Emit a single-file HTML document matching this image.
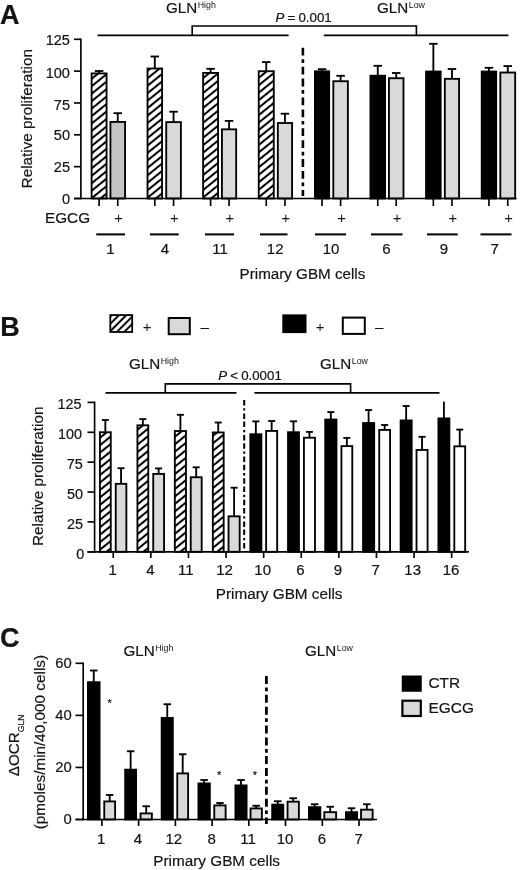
<!DOCTYPE html>
<html><head><meta charset="utf-8"><title>Figure</title>
<style>
html,body{margin:0;padding:0;background:#fff;}
svg{display:block;}
svg text{font-family:"Liberation Sans",sans-serif;fill:#141414;stroke:#141414;stroke-width:0.2px;}
svg text .sup, svg text.sup{stroke-width:0;}
</style></head><body>
<svg width="520" height="870" viewBox="0 0 520 870">
<defs>
<pattern id="hatch" patternUnits="userSpaceOnUse" width="5.8" height="5.8" patternTransform="rotate(-39)">
<rect width="5.8" height="5.8" fill="#fff"/>
<line x1="0" y1="2.9" x2="5.8" y2="2.9" stroke="#000" stroke-width="2.05"/>
</pattern>
<pattern id="hatch2" patternUnits="userSpaceOnUse" width="5.2" height="5.2" patternTransform="translate(3.9,0) rotate(-45)">
<rect width="5.2" height="5.2" fill="#fff"/>
<line x1="0" y1="2.6" x2="5.2" y2="2.6" stroke="#000" stroke-width="2.0"/>
</pattern>
</defs>
<rect width="520" height="870" fill="#fff"/>

<text x="-0.1" y="23.9" font-size="27" text-anchor="start" font-weight="bold">A</text>
<line x1="80.9" y1="38.47499999999998" x2="80.9" y2="199.325" stroke="#000" stroke-width="1.65" />
<line x1="74" y1="198.5" x2="80.9" y2="198.5" stroke="#000" stroke-width="1.65" />
<text x="70" y="204.2" font-size="14.6" text-anchor="end" >0</text>
<line x1="74" y1="166.66" x2="80.9" y2="166.66" stroke="#000" stroke-width="1.65" />
<text x="70" y="171.8" font-size="14.6" text-anchor="end" >25</text>
<line x1="74" y1="134.82" x2="80.9" y2="134.82" stroke="#000" stroke-width="1.65" />
<text x="70" y="139.5" font-size="14.6" text-anchor="end" >50</text>
<line x1="74" y1="102.97999999999999" x2="80.9" y2="102.97999999999999" stroke="#000" stroke-width="1.65" />
<text x="70" y="109.7" font-size="14.6" text-anchor="end" >75</text>
<line x1="74" y1="71.13999999999999" x2="80.9" y2="71.13999999999999" stroke="#000" stroke-width="1.65" />
<text x="70" y="78.0" font-size="14.6" text-anchor="end" >100</text>
<line x1="74" y1="39.29999999999998" x2="80.9" y2="39.29999999999998" stroke="#000" stroke-width="1.65" />
<text x="70" y="45.2" font-size="14.6" text-anchor="end" >125</text>
<text transform="translate(31.6,118.7) rotate(-90)" font-size="15.3" text-anchor="middle">Relative proliferation</text>
<line x1="99.1" y1="71" x2="99.1" y2="73.5" stroke="#000" stroke-width="1.85" />
<line x1="94.85" y1="71" x2="103.35" y2="71" stroke="#000" stroke-width="1.85" />
<rect x="91.62" y="73.42" width="14.95" height="125.08" fill="url(#hatch)" stroke="#000" stroke-width="1.85"/>
<line x1="99.1" y1="198.5" x2="99.1" y2="206" stroke="#000" stroke-width="1.65" />
<line x1="117.75" y1="113.2" x2="117.75" y2="122" stroke="#000" stroke-width="1.85" />
<line x1="113.5" y1="113.2" x2="122.0" y2="113.2" stroke="#000" stroke-width="1.85" />
<rect x="110.42" y="121.92" width="14.65" height="76.58" fill="#c4c4c4" stroke="#000" stroke-width="1.85"/>
<line x1="117.75" y1="198.5" x2="117.75" y2="206" stroke="#000" stroke-width="1.65" />
<line x1="154.8" y1="56.5" x2="154.8" y2="68.6" stroke="#000" stroke-width="1.85" />
<line x1="150.55" y1="56.5" x2="159.05" y2="56.5" stroke="#000" stroke-width="1.85" />
<rect x="147.53" y="68.52" width="14.55" height="129.97" fill="url(#hatch)" stroke="#000" stroke-width="1.85"/>
<line x1="154.8" y1="198.5" x2="154.8" y2="206" stroke="#000" stroke-width="1.65" />
<line x1="173.55" y1="111.7" x2="173.55" y2="122.2" stroke="#000" stroke-width="1.85" />
<line x1="169.3" y1="111.7" x2="177.8" y2="111.7" stroke="#000" stroke-width="1.85" />
<rect x="166.23" y="122.12" width="14.65" height="76.38" fill="#d9d9d9" stroke="#000" stroke-width="1.85"/>
<line x1="173.55" y1="198.5" x2="173.55" y2="206" stroke="#000" stroke-width="1.65" />
<line x1="210.6" y1="68.8" x2="210.6" y2="73" stroke="#000" stroke-width="1.85" />
<line x1="206.35" y1="68.8" x2="214.85" y2="68.8" stroke="#000" stroke-width="1.85" />
<rect x="203.12" y="72.92" width="14.95" height="125.58" fill="url(#hatch)" stroke="#000" stroke-width="1.85"/>
<line x1="210.6" y1="198.5" x2="210.6" y2="206" stroke="#000" stroke-width="1.65" />
<line x1="229.05" y1="120.9" x2="229.05" y2="129.4" stroke="#000" stroke-width="1.85" />
<line x1="224.8" y1="120.9" x2="233.3" y2="120.9" stroke="#000" stroke-width="1.85" />
<rect x="221.93" y="129.33" width="14.25" height="69.17" fill="#d9d9d9" stroke="#000" stroke-width="1.85"/>
<line x1="229.05" y1="198.5" x2="229.05" y2="206" stroke="#000" stroke-width="1.65" />
<line x1="266.25" y1="62.1" x2="266.25" y2="71.3" stroke="#000" stroke-width="1.85" />
<line x1="262.0" y1="62.1" x2="270.5" y2="62.1" stroke="#000" stroke-width="1.85" />
<rect x="258.73" y="71.22" width="15.05" height="127.27" fill="url(#hatch)" stroke="#000" stroke-width="1.85"/>
<line x1="266.25" y1="198.5" x2="266.25" y2="206" stroke="#000" stroke-width="1.65" />
<line x1="284.95" y1="113.7" x2="284.95" y2="123.1" stroke="#000" stroke-width="1.85" />
<line x1="280.7" y1="113.7" x2="289.2" y2="113.7" stroke="#000" stroke-width="1.85" />
<rect x="277.82" y="123.02" width="14.25" height="75.48" fill="#d9d9d9" stroke="#000" stroke-width="1.85"/>
<line x1="284.95" y1="198.5" x2="284.95" y2="206" stroke="#000" stroke-width="1.65" />
<line x1="322.05" y1="69.2" x2="322.05" y2="71.4" stroke="#000" stroke-width="1.85" />
<line x1="317.8" y1="69.2" x2="326.3" y2="69.2" stroke="#000" stroke-width="1.85" />
<rect x="314.93" y="71.33" width="14.25" height="127.17" fill="#000" stroke="#000" stroke-width="1.85"/>
<line x1="322.05" y1="198.5" x2="322.05" y2="206" stroke="#000" stroke-width="1.65" />
<line x1="340.6" y1="75.8" x2="340.6" y2="81.3" stroke="#000" stroke-width="1.85" />
<line x1="336.35" y1="75.8" x2="344.85" y2="75.8" stroke="#000" stroke-width="1.85" />
<rect x="333.32" y="81.22" width="14.55" height="117.28" fill="#d9d9d9" stroke="#000" stroke-width="1.85"/>
<line x1="340.6" y1="198.5" x2="340.6" y2="206" stroke="#000" stroke-width="1.65" />
<line x1="377.75" y1="65.8" x2="377.75" y2="75.8" stroke="#000" stroke-width="1.85" />
<line x1="373.5" y1="65.8" x2="382.0" y2="65.8" stroke="#000" stroke-width="1.85" />
<rect x="370.43" y="75.72" width="14.65" height="122.78" fill="#000" stroke="#000" stroke-width="1.85"/>
<line x1="377.75" y1="198.5" x2="377.75" y2="206" stroke="#000" stroke-width="1.65" />
<line x1="396.2" y1="73" x2="396.2" y2="78.3" stroke="#000" stroke-width="1.85" />
<line x1="391.95" y1="73" x2="400.45" y2="73" stroke="#000" stroke-width="1.85" />
<rect x="388.93" y="78.22" width="14.55" height="120.28" fill="#d9d9d9" stroke="#000" stroke-width="1.85"/>
<line x1="396.2" y1="198.5" x2="396.2" y2="206" stroke="#000" stroke-width="1.65" />
<line x1="433.35" y1="43.8" x2="433.35" y2="71.6" stroke="#000" stroke-width="1.85" />
<line x1="429.1" y1="43.8" x2="437.6" y2="43.8" stroke="#000" stroke-width="1.85" />
<rect x="426.03" y="71.52" width="14.65" height="126.98" fill="#000" stroke="#000" stroke-width="1.85"/>
<line x1="433.35" y1="198.5" x2="433.35" y2="206" stroke="#000" stroke-width="1.65" />
<line x1="451.95" y1="69" x2="451.95" y2="78.9" stroke="#000" stroke-width="1.85" />
<line x1="447.7" y1="69" x2="456.2" y2="69" stroke="#000" stroke-width="1.85" />
<rect x="444.82" y="78.83" width="14.25" height="119.67" fill="#d9d9d9" stroke="#000" stroke-width="1.85"/>
<line x1="451.95" y1="198.5" x2="451.95" y2="206" stroke="#000" stroke-width="1.65" />
<line x1="488.95000000000005" y1="67.8" x2="488.95000000000005" y2="71.6" stroke="#000" stroke-width="1.85" />
<line x1="484.70000000000005" y1="67.8" x2="493.20000000000005" y2="67.8" stroke="#000" stroke-width="1.85" />
<rect x="481.73" y="71.52" width="14.45" height="126.98" fill="#000" stroke="#000" stroke-width="1.85"/>
<line x1="488.95000000000005" y1="198.5" x2="488.95000000000005" y2="206" stroke="#000" stroke-width="1.65" />
<line x1="507.75" y1="66.1" x2="507.75" y2="72.6" stroke="#000" stroke-width="1.85" />
<line x1="503.5" y1="66.1" x2="512.0" y2="66.1" stroke="#000" stroke-width="1.85" />
<rect x="500.32" y="72.52" width="14.85" height="125.98" fill="#d9d9d9" stroke="#000" stroke-width="1.85"/>
<line x1="507.75" y1="198.5" x2="507.75" y2="206" stroke="#000" stroke-width="1.65" />
<line x1="74" y1="198.5" x2="516.6" y2="198.5" stroke="#000" stroke-width="1.65" />
<line x1="302.9" y1="47.8" x2="302.9" y2="196" stroke="#000" stroke-width="2.6" stroke-dasharray="7.8 3.7 3.7 3.7 7.8 4.1"/>
<text x="45" y="222.6" font-size="15.3" text-anchor="start" >EGCG</text>
<text x="118.65" y="222.7" font-size="14.8" text-anchor="middle" class="sup">+</text>
<text x="174.45000000000002" y="222.7" font-size="14.8" text-anchor="middle" class="sup">+</text>
<text x="229.95000000000002" y="222.7" font-size="14.8" text-anchor="middle" class="sup">+</text>
<text x="285.84999999999997" y="222.7" font-size="14.8" text-anchor="middle" class="sup">+</text>
<text x="341.5" y="222.7" font-size="14.8" text-anchor="middle" class="sup">+</text>
<text x="397.09999999999997" y="222.7" font-size="14.8" text-anchor="middle" class="sup">+</text>
<text x="452.84999999999997" y="222.7" font-size="14.8" text-anchor="middle" class="sup">+</text>
<text x="508.65" y="222.7" font-size="14.8" text-anchor="middle" class="sup">+</text>
<line x1="96.25" y1="234.4" x2="125" y2="234.4" stroke="#000" stroke-width="2.0" />
<line x1="150" y1="234.4" x2="178.75" y2="234.4" stroke="#000" stroke-width="2.0" />
<line x1="205" y1="234.4" x2="234" y2="234.4" stroke="#000" stroke-width="2.0" />
<line x1="260" y1="234.4" x2="287.5" y2="234.4" stroke="#000" stroke-width="2.0" />
<line x1="315" y1="234.4" x2="346" y2="234.4" stroke="#000" stroke-width="2.0" />
<line x1="371" y1="234.4" x2="402.5" y2="234.4" stroke="#000" stroke-width="2.0" />
<line x1="427" y1="234.4" x2="457.7" y2="234.4" stroke="#000" stroke-width="2.0" />
<line x1="480.5" y1="234.4" x2="511.5" y2="234.4" stroke="#000" stroke-width="2.0" />
<text x="110.5" y="254.4" font-size="15" text-anchor="middle" >1</text>
<text x="165" y="254.4" font-size="15" text-anchor="middle" >4</text>
<text x="220" y="254.4" font-size="15" text-anchor="middle" >11</text>
<text x="275.2" y="254.4" font-size="15" text-anchor="middle" >12</text>
<text x="331" y="254.4" font-size="15" text-anchor="middle" >10</text>
<text x="386.5" y="254.4" font-size="15" text-anchor="middle" >6</text>
<text x="443.8" y="254.4" font-size="15" text-anchor="middle" >9</text>
<text x="494.6" y="254.4" font-size="15" text-anchor="middle" >7</text>
<text x="239.6" y="278.6" font-size="15.2" text-anchor="start" >Primary GBM cells</text>
<text x="166" y="13.2" font-size="15.2">GLN<tspan class="sup" font-size="8.8" dx="0.5" dy="-5.3">High</tspan></text>
<text x="377" y="13.2" font-size="15.2">GLN<tspan class="sup" font-size="8.8" dx="0.5" dy="-5.3">Low</tspan></text>
<text x="275.6" y="22.2" font-size="13.3" word-spacing="-0.6"><tspan font-style="italic">P</tspan> = 0.001</text>
<line x1="97.5" y1="35.4" x2="288.6" y2="35.4" stroke="#000" stroke-width="1.65" />
<line x1="323.8" y1="35.4" x2="508.4" y2="35.4" stroke="#000" stroke-width="1.65" />
<polyline points="192.2,35.4 192.2,26 416.4,26 416.4,35.4" fill="none" stroke="#000" stroke-width="1.65"/>
<text x="0.2" y="336.3" font-size="27" text-anchor="start" font-weight="bold">B</text>
<rect x="110.3" y="315.1" width="21.9" height="16.9" fill="url(#hatch2)" stroke="#000" stroke-width="1.8"/>
<text x="147" y="332.1" font-size="14.8" text-anchor="middle" class="sup">+</text>
<rect x="168.7" y="318" width="21.1" height="16.2" fill="#d9d9d9" stroke="#000" stroke-width="2"/>
<text x="200.4" y="332.0" font-size="15.3" text-anchor="start" class="sup">–</text>
<rect x="282.3" y="314.4" width="24.2" height="18.7" fill="#000"/>
<text x="320.1" y="332.1" font-size="14.8" text-anchor="middle" class="sup">+</text>
<rect x="342.8" y="317.6" width="22" height="16.3" fill="#fff" stroke="#000" stroke-width="2"/>
<text x="374.9" y="332.0" font-size="15.3" text-anchor="start" class="sup">–</text>
<text x="129" y="368.9" font-size="15.2">GLN<tspan class="sup" font-size="8.8" dx="0.5" dy="-5.3">High</tspan></text>
<text x="320" y="368.9" font-size="15.2">GLN<tspan class="sup" font-size="8.8" dx="0.5" dy="-5.3">Low</tspan></text>
<text x="218.3" y="380.2" font-size="13.3" word-spacing="-0.6"><tspan font-style="italic">P</tspan> &lt; 0.0001</text>
<line x1="105.5" y1="392.9" x2="236.5" y2="392.9" stroke="#000" stroke-width="1.65" />
<line x1="254.4" y1="392.9" x2="439.5" y2="392.9" stroke="#000" stroke-width="1.65" />
<polyline points="165.3,392.9 165.3,383.8 350.6,383.8 350.6,392.9" fill="none" stroke="#000" stroke-width="1.65"/>
<line x1="94.6" y1="401.575" x2="94.6" y2="552.625" stroke="#000" stroke-width="1.65" />
<line x1="87.5" y1="551.8" x2="94.6" y2="551.8" stroke="#000" stroke-width="1.65" />
<text x="84.3" y="558.6999999999999" font-size="14.4" text-anchor="end" >0</text>
<line x1="87.5" y1="521.92" x2="94.6" y2="521.92" stroke="#000" stroke-width="1.65" />
<text x="83" y="528.8199999999999" font-size="14.4" text-anchor="end" >25</text>
<line x1="87.5" y1="492.03999999999996" x2="94.6" y2="492.03999999999996" stroke="#000" stroke-width="1.65" />
<text x="83" y="498.93999999999994" font-size="14.4" text-anchor="end" >50</text>
<line x1="87.5" y1="462.15999999999997" x2="94.6" y2="462.15999999999997" stroke="#000" stroke-width="1.65" />
<text x="82.7" y="469.05999999999995" font-size="14.4" text-anchor="end" >75</text>
<line x1="87.5" y1="432.28" x2="94.6" y2="432.28" stroke="#000" stroke-width="1.65" />
<text x="82.1" y="439.17999999999995" font-size="14.4" text-anchor="end" >100</text>
<line x1="87.5" y1="402.4" x2="94.6" y2="402.4" stroke="#000" stroke-width="1.65" />
<text x="81.6" y="409.29999999999995" font-size="14.4" text-anchor="end" >125</text>
<text transform="translate(42.8,476.3) rotate(-90)" font-size="15.3" text-anchor="middle">Relative proliferation</text>
<line x1="105.35" y1="420" x2="105.35" y2="432.3" stroke="#000" stroke-width="1.85" />
<line x1="101.85" y1="420" x2="108.85" y2="420" stroke="#000" stroke-width="1.85" />
<rect x="99.92" y="432.23" width="10.85" height="119.57" fill="url(#hatch)" stroke="#000" stroke-width="1.85"/>
<line x1="121.05" y1="468.2" x2="121.05" y2="483.9" stroke="#000" stroke-width="1.85" />
<line x1="117.55" y1="468.2" x2="124.55" y2="468.2" stroke="#000" stroke-width="1.85" />
<rect x="115.72" y="483.82" width="10.65" height="67.97" fill="#d9d9d9" stroke="#000" stroke-width="1.85"/>
<line x1="142.85" y1="419.1" x2="142.85" y2="425.4" stroke="#000" stroke-width="1.85" />
<line x1="139.35" y1="419.1" x2="146.35" y2="419.1" stroke="#000" stroke-width="1.85" />
<rect x="137.43" y="425.32" width="10.85" height="126.47" fill="url(#hatch)" stroke="#000" stroke-width="1.85"/>
<line x1="158.65" y1="468.4" x2="158.65" y2="474" stroke="#000" stroke-width="1.85" />
<line x1="155.15" y1="468.4" x2="162.15" y2="468.4" stroke="#000" stroke-width="1.85" />
<rect x="153.23" y="473.93" width="10.85" height="77.87" fill="#d9d9d9" stroke="#000" stroke-width="1.85"/>
<line x1="180.4" y1="414.8" x2="180.4" y2="431.1" stroke="#000" stroke-width="1.85" />
<line x1="176.9" y1="414.8" x2="183.9" y2="414.8" stroke="#000" stroke-width="1.85" />
<rect x="174.83" y="431.03" width="11.15" height="120.77" fill="url(#hatch)" stroke="#000" stroke-width="1.85"/>
<line x1="196.2" y1="467.3" x2="196.2" y2="477.3" stroke="#000" stroke-width="1.85" />
<line x1="192.7" y1="467.3" x2="199.7" y2="467.3" stroke="#000" stroke-width="1.85" />
<rect x="190.73" y="477.23" width="10.95" height="74.57" fill="#d9d9d9" stroke="#000" stroke-width="1.85"/>
<line x1="218.25" y1="422.5" x2="218.25" y2="432.5" stroke="#000" stroke-width="1.85" />
<line x1="214.75" y1="422.5" x2="221.75" y2="422.5" stroke="#000" stroke-width="1.85" />
<rect x="212.83" y="432.43" width="10.85" height="119.37" fill="url(#hatch)" stroke="#000" stroke-width="1.85"/>
<line x1="234.1" y1="487.7" x2="234.1" y2="516.4" stroke="#000" stroke-width="1.85" />
<line x1="230.6" y1="487.7" x2="237.6" y2="487.7" stroke="#000" stroke-width="1.85" />
<rect x="228.53" y="516.32" width="11.15" height="35.47" fill="#d9d9d9" stroke="#000" stroke-width="1.85"/>
<line x1="255.85000000000002" y1="421.4" x2="255.85000000000002" y2="434.3" stroke="#000" stroke-width="1.85" />
<line x1="252.35000000000002" y1="421.4" x2="259.35" y2="421.4" stroke="#000" stroke-width="1.85" />
<rect x="250.33" y="434.23" width="11.05" height="117.57" fill="#000" stroke="#000" stroke-width="1.85"/>
<line x1="271.65" y1="421" x2="271.65" y2="431" stroke="#000" stroke-width="1.85" />
<line x1="268.15" y1="421" x2="275.15" y2="421" stroke="#000" stroke-width="1.85" />
<rect x="266.12" y="430.93" width="11.05" height="120.87" fill="#fff" stroke="#000" stroke-width="1.85"/>
<line x1="293.5" y1="421.3" x2="293.5" y2="432.3" stroke="#000" stroke-width="1.85" />
<line x1="290.0" y1="421.3" x2="297.0" y2="421.3" stroke="#000" stroke-width="1.85" />
<rect x="288.03" y="432.23" width="10.95" height="119.57" fill="#000" stroke="#000" stroke-width="1.85"/>
<line x1="309.45" y1="431.9" x2="309.45" y2="437.8" stroke="#000" stroke-width="1.85" />
<line x1="305.95" y1="431.9" x2="312.95" y2="431.9" stroke="#000" stroke-width="1.85" />
<rect x="303.93" y="437.73" width="11.05" height="114.07" fill="#fff" stroke="#000" stroke-width="1.85"/>
<line x1="330.85" y1="412.1" x2="330.85" y2="419.6" stroke="#000" stroke-width="1.85" />
<line x1="327.35" y1="412.1" x2="334.35" y2="412.1" stroke="#000" stroke-width="1.85" />
<rect x="325.23" y="419.53" width="11.25" height="132.27" fill="#000" stroke="#000" stroke-width="1.85"/>
<line x1="346.85" y1="437.9" x2="346.85" y2="446.2" stroke="#000" stroke-width="1.85" />
<line x1="343.35" y1="437.9" x2="350.35" y2="437.9" stroke="#000" stroke-width="1.85" />
<rect x="341.43" y="446.12" width="10.85" height="105.67" fill="#fff" stroke="#000" stroke-width="1.85"/>
<line x1="368.6" y1="410" x2="368.6" y2="423.1" stroke="#000" stroke-width="1.85" />
<line x1="365.1" y1="410" x2="372.1" y2="410" stroke="#000" stroke-width="1.85" />
<rect x="363.03" y="423.03" width="11.15" height="128.77" fill="#000" stroke="#000" stroke-width="1.85"/>
<line x1="384.65" y1="425" x2="384.65" y2="430" stroke="#000" stroke-width="1.85" />
<line x1="381.15" y1="425" x2="388.15" y2="425" stroke="#000" stroke-width="1.85" />
<rect x="379.23" y="429.93" width="10.85" height="121.87" fill="#fff" stroke="#000" stroke-width="1.85"/>
<line x1="406.15" y1="406" x2="406.15" y2="420.5" stroke="#000" stroke-width="1.85" />
<line x1="402.65" y1="406" x2="409.65" y2="406" stroke="#000" stroke-width="1.85" />
<rect x="400.62" y="420.43" width="11.05" height="131.37" fill="#000" stroke="#000" stroke-width="1.85"/>
<line x1="422.05" y1="436.8" x2="422.05" y2="450" stroke="#000" stroke-width="1.85" />
<line x1="418.55" y1="436.8" x2="425.55" y2="436.8" stroke="#000" stroke-width="1.85" />
<rect x="416.53" y="449.93" width="11.05" height="101.87" fill="#fff" stroke="#000" stroke-width="1.85"/>
<line x1="443.9" y1="401.7" x2="443.9" y2="418.5" stroke="#000" stroke-width="1.85" />
<rect x="438.43" y="418.43" width="10.95" height="133.37" fill="#000" stroke="#000" stroke-width="1.85"/>
<line x1="459.75" y1="429.6" x2="459.75" y2="446.4" stroke="#000" stroke-width="1.85" />
<line x1="456.25" y1="429.6" x2="463.25" y2="429.6" stroke="#000" stroke-width="1.85" />
<rect x="454.32" y="446.32" width="10.85" height="105.47" fill="#fff" stroke="#000" stroke-width="1.85"/>
<line x1="87.5" y1="551.8" x2="468.8" y2="551.8" stroke="#000" stroke-width="1.65" />
<line x1="113.25" y1="551.8" x2="113.25" y2="558" stroke="#000" stroke-width="1.65" />
<line x1="150.85" y1="551.8" x2="150.85" y2="558" stroke="#000" stroke-width="1.65" />
<line x1="188.45" y1="551.8" x2="188.45" y2="558" stroke="#000" stroke-width="1.65" />
<line x1="226.05" y1="551.8" x2="226.05" y2="558" stroke="#000" stroke-width="1.65" />
<line x1="263.65" y1="551.8" x2="263.65" y2="558" stroke="#000" stroke-width="1.65" />
<line x1="301.25" y1="551.8" x2="301.25" y2="558" stroke="#000" stroke-width="1.65" />
<line x1="338.85" y1="551.8" x2="338.85" y2="558" stroke="#000" stroke-width="1.65" />
<line x1="376.45" y1="551.8" x2="376.45" y2="558" stroke="#000" stroke-width="1.65" />
<line x1="414.05" y1="551.8" x2="414.05" y2="558" stroke="#000" stroke-width="1.65" />
<line x1="451.65" y1="551.8" x2="451.65" y2="558" stroke="#000" stroke-width="1.65" />
<text x="112.7" y="575.4" font-size="15" text-anchor="middle" >1</text>
<text x="150.3" y="575.4" font-size="15" text-anchor="middle" >4</text>
<text x="185.8" y="575.4" font-size="15" text-anchor="middle" >11</text>
<text x="224.6" y="575.4" font-size="15" text-anchor="middle" >12</text>
<text x="262.7" y="575.4" font-size="15" text-anchor="middle" >10</text>
<text x="300.3" y="575.4" font-size="15" text-anchor="middle" >6</text>
<text x="337.9" y="575.4" font-size="15" text-anchor="middle" >9</text>
<text x="375.7" y="575.4" font-size="15" text-anchor="middle" >7</text>
<text x="412.7" y="575.4" font-size="15" text-anchor="middle" >13</text>
<text x="451" y="575.4" font-size="15" text-anchor="middle" >16</text>
<line x1="244.2" y1="400" x2="244.2" y2="549.5" stroke="#000" stroke-width="2" stroke-dasharray="5.5 2.8 2.3 2.8 5.5 2.7"/>
<text x="215.8" y="598.8" font-size="15.3" text-anchor="start" >Primary GBM cells</text>
<text x="-0.1" y="647" font-size="27" text-anchor="start" font-weight="bold">C</text>
<line x1="83.2" y1="662.4949999999999" x2="83.2" y2="820.325" stroke="#000" stroke-width="1.65" />
<line x1="75.5" y1="819.5" x2="83.2" y2="819.5" stroke="#000" stroke-width="1.65" />
<text x="71.8" y="824.4" font-size="14.8" text-anchor="end" >0</text>
<line x1="75.5" y1="767.44" x2="83.2" y2="767.44" stroke="#000" stroke-width="1.65" />
<text x="71.8" y="772.34" font-size="14.8" text-anchor="end" >20</text>
<line x1="75.5" y1="715.38" x2="83.2" y2="715.38" stroke="#000" stroke-width="1.65" />
<text x="71.8" y="720.28" font-size="14.8" text-anchor="end" >40</text>
<line x1="75.5" y1="663.3199999999999" x2="83.2" y2="663.3199999999999" stroke="#000" stroke-width="1.65" />
<text x="71.8" y="668.2199999999999" font-size="14.8" text-anchor="end" >60</text>
<text transform="translate(19,745.3) rotate(-90)" font-size="15.2" text-anchor="middle">ΔOCR<tspan font-size="8.7" dy="5.2">GLN</tspan></text>
<text transform="translate(44.9,742.1) rotate(-90)" font-size="15.3" text-anchor="middle">(pmoles/min/40,000 cells)</text>
<line x1="93.75" y1="670.5" x2="93.75" y2="682.25" stroke="#000" stroke-width="1.85" />
<line x1="90.0" y1="670.5" x2="97.5" y2="670.5" stroke="#000" stroke-width="1.85" />
<rect x="87.92" y="682.17" width="11.65" height="137.32" fill="#000" stroke="#000" stroke-width="1.85"/>
<line x1="109.69999999999999" y1="795" x2="109.69999999999999" y2="801.5" stroke="#000" stroke-width="1.85" />
<line x1="105.94999999999999" y1="795" x2="113.44999999999999" y2="795" stroke="#000" stroke-width="1.85" />
<rect x="104.27" y="801.42" width="10.85" height="18.07" fill="#d9d9d9" stroke="#000" stroke-width="1.85"/>
<line x1="130.625" y1="751.25" x2="130.625" y2="769.75" stroke="#000" stroke-width="1.85" />
<line x1="126.875" y1="751.25" x2="134.375" y2="751.25" stroke="#000" stroke-width="1.85" />
<rect x="125.17" y="769.67" width="10.90" height="49.83" fill="#000" stroke="#000" stroke-width="1.85"/>
<line x1="146.2" y1="806.25" x2="146.2" y2="813.5" stroke="#000" stroke-width="1.85" />
<line x1="142.45" y1="806.25" x2="149.95" y2="806.25" stroke="#000" stroke-width="1.85" />
<rect x="140.53" y="813.42" width="11.35" height="6.08" fill="#d9d9d9" stroke="#000" stroke-width="1.85"/>
<line x1="167.25" y1="704.25" x2="167.25" y2="718" stroke="#000" stroke-width="1.85" />
<line x1="163.5" y1="704.25" x2="171.0" y2="704.25" stroke="#000" stroke-width="1.85" />
<rect x="161.68" y="717.92" width="11.15" height="101.58" fill="#000" stroke="#000" stroke-width="1.85"/>
<line x1="182.7" y1="754.25" x2="182.7" y2="773.5" stroke="#000" stroke-width="1.85" />
<line x1="178.95" y1="754.25" x2="186.45" y2="754.25" stroke="#000" stroke-width="1.85" />
<rect x="177.28" y="773.42" width="10.85" height="46.08" fill="#d9d9d9" stroke="#000" stroke-width="1.85"/>
<line x1="204.125" y1="780" x2="204.125" y2="783.5" stroke="#000" stroke-width="1.85" />
<line x1="200.375" y1="780" x2="207.875" y2="780" stroke="#000" stroke-width="1.85" />
<rect x="198.43" y="783.42" width="11.40" height="36.08" fill="#000" stroke="#000" stroke-width="1.85"/>
<line x1="219.95" y1="803" x2="219.95" y2="805.5" stroke="#000" stroke-width="1.85" />
<line x1="216.2" y1="803" x2="223.7" y2="803" stroke="#000" stroke-width="1.85" />
<rect x="214.28" y="805.42" width="11.35" height="14.07" fill="#d9d9d9" stroke="#000" stroke-width="1.85"/>
<line x1="241.0" y1="780" x2="241.0" y2="785.5" stroke="#000" stroke-width="1.85" />
<line x1="237.25" y1="780" x2="244.75" y2="780" stroke="#000" stroke-width="1.85" />
<rect x="235.43" y="785.42" width="11.15" height="34.08" fill="#000" stroke="#000" stroke-width="1.85"/>
<line x1="256.2" y1="805.75" x2="256.2" y2="808.5" stroke="#000" stroke-width="1.85" />
<line x1="252.45" y1="805.75" x2="259.95" y2="805.75" stroke="#000" stroke-width="1.85" />
<rect x="250.53" y="808.42" width="11.35" height="11.07" fill="#d9d9d9" stroke="#000" stroke-width="1.85"/>
<line x1="277.75" y1="801.25" x2="277.75" y2="804.75" stroke="#000" stroke-width="1.85" />
<line x1="274.0" y1="801.25" x2="281.5" y2="801.25" stroke="#000" stroke-width="1.85" />
<rect x="272.18" y="804.67" width="11.15" height="14.82" fill="#000" stroke="#000" stroke-width="1.85"/>
<line x1="293.20000000000005" y1="798.25" x2="293.20000000000005" y2="801.75" stroke="#000" stroke-width="1.85" />
<line x1="289.45000000000005" y1="798.25" x2="296.95000000000005" y2="798.25" stroke="#000" stroke-width="1.85" />
<rect x="287.53" y="801.67" width="11.35" height="17.82" fill="#d9d9d9" stroke="#000" stroke-width="1.85"/>
<line x1="314.625" y1="804.25" x2="314.625" y2="807.25" stroke="#000" stroke-width="1.85" />
<line x1="310.875" y1="804.25" x2="318.375" y2="804.25" stroke="#000" stroke-width="1.85" />
<rect x="308.93" y="807.17" width="11.40" height="12.32" fill="#000" stroke="#000" stroke-width="1.85"/>
<line x1="330.20000000000005" y1="806.75" x2="330.20000000000005" y2="812.25" stroke="#000" stroke-width="1.85" />
<line x1="326.45000000000005" y1="806.75" x2="333.95000000000005" y2="806.75" stroke="#000" stroke-width="1.85" />
<rect x="324.28" y="812.17" width="11.85" height="7.33" fill="#d9d9d9" stroke="#000" stroke-width="1.85"/>
<line x1="351.5" y1="808.25" x2="351.5" y2="812.25" stroke="#000" stroke-width="1.85" />
<line x1="347.75" y1="808.25" x2="355.25" y2="808.25" stroke="#000" stroke-width="1.85" />
<rect x="345.93" y="812.17" width="11.15" height="7.33" fill="#000" stroke="#000" stroke-width="1.85"/>
<line x1="366.82500000000005" y1="804.25" x2="366.82500000000005" y2="809.75" stroke="#000" stroke-width="1.85" />
<line x1="363.07500000000005" y1="804.25" x2="370.57500000000005" y2="804.25" stroke="#000" stroke-width="1.85" />
<rect x="361.03" y="809.67" width="11.60" height="9.82" fill="#d9d9d9" stroke="#000" stroke-width="1.85"/>
<line x1="75.5" y1="819.5" x2="377" y2="819.5" stroke="#000" stroke-width="1.65" />
<line x1="101.9" y1="819.5" x2="101.9" y2="826" stroke="#000" stroke-width="1.65" />
<line x1="138.6" y1="819.5" x2="138.6" y2="826" stroke="#000" stroke-width="1.65" />
<line x1="175.4" y1="819.5" x2="175.4" y2="826" stroke="#000" stroke-width="1.65" />
<line x1="212.1" y1="819.5" x2="212.1" y2="826" stroke="#000" stroke-width="1.65" />
<line x1="248.8" y1="819.5" x2="248.8" y2="826" stroke="#000" stroke-width="1.65" />
<line x1="285.5" y1="819.5" x2="285.5" y2="826" stroke="#000" stroke-width="1.65" />
<line x1="322.3" y1="819.5" x2="322.3" y2="826" stroke="#000" stroke-width="1.65" />
<line x1="359" y1="819.5" x2="359" y2="826" stroke="#000" stroke-width="1.65" />
<text x="101.25" y="843.9" font-size="15" text-anchor="middle" >1</text>
<text x="138" y="843.9" font-size="15" text-anchor="middle" >4</text>
<text x="173.75" y="843.9" font-size="15" text-anchor="middle" >12</text>
<text x="211.75" y="843.9" font-size="15" text-anchor="middle" >8</text>
<text x="248" y="843.9" font-size="15" text-anchor="middle" >11</text>
<text x="285" y="843.9" font-size="15" text-anchor="middle" >10</text>
<text x="321.8" y="843.9" font-size="15" text-anchor="middle" >6</text>
<text x="358.6" y="843.9" font-size="15" text-anchor="middle" >7</text>
<line x1="266.4" y1="676" x2="266.4" y2="824" stroke="#000" stroke-width="2.8" stroke-dasharray="8 3.6 3.7 3.4 8 4"/>
<text x="153.3" y="866.4" font-size="15.3" text-anchor="start" >Primary GBM cells</text>
<text x="123.5" y="656.4" font-size="15.2">GLN<tspan class="sup" font-size="8.8" dx="0.5" dy="-5.3">High</tspan></text>
<text x="305" y="656.4" font-size="15.2">GLN<tspan class="sup" font-size="8.8" dx="0.5" dy="-5.3">Low</tspan></text>
<text x="109.65" y="706.9" font-size="11" text-anchor="middle" >*</text>
<text x="219.15" y="779.2" font-size="11" text-anchor="middle" >*</text>
<text x="254.9" y="779.2" font-size="11" text-anchor="middle" >*</text>
<rect x="401.75" y="675.5" width="20" height="16.25" fill="#000"/>
<rect x="402.4" y="700.7" width="18.4" height="15.3" fill="#d9d9d9" stroke="#000" stroke-width="2.2"/>
<text x="428.4" y="688.1" font-size="15.4" text-anchor="start" >CTR</text>
<text x="428.6" y="713.1" font-size="15.4" text-anchor="start" >EGCG</text>
</svg>
</body></html>
